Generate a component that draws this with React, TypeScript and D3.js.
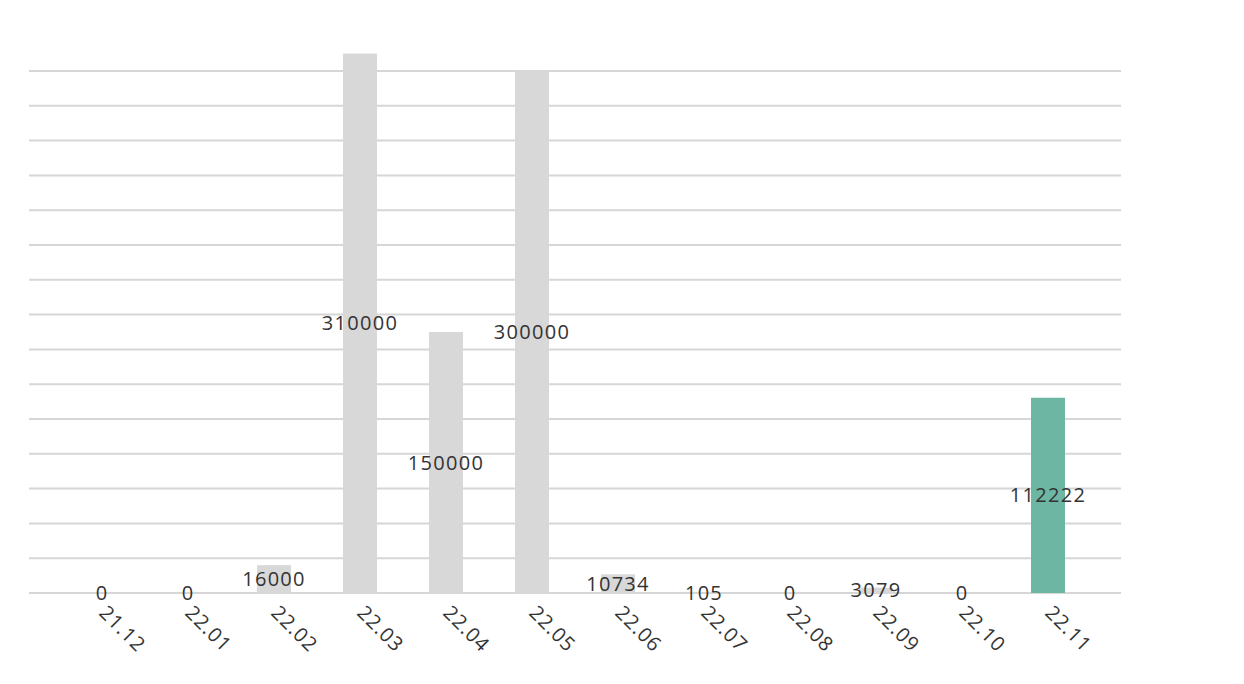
import React from "react";
import * as d3 from "d3";

const categories = ["21.12", "22.01", "22.02", "22.03", "22.04", "22.05", "22.06", "22.07", "22.08", "22.09", "22.10", "22.11"];
const values = [0, 0, 16000, 310000, 150000, 300000, 10734, 105, 0, 3079, 0, 112222];
const gridTicks = d3.range(0, 300001, 20000);

const W = 1244;
const H = 684;
const FONT = "'Open Sans', sans-serif";

export default function App() {
  const x = d3.scaleBand<string>().domain(categories).range([59, 1091]).paddingInner(0.605).paddingOuter(0.3025);
  const y = d3.scaleLinear().domain([0, 300000]).range([593, 71]);
  const gridX0 = 29;
  const gridX1 = 1121;
  const last = categories.length - 1;
  return (
    <svg width={W} height={H} style={{ position: "absolute", left: 0, top: 0 }}>
      <rect width={W} height={H} fill="#fff" />
      {gridTicks.map((t) => (
        <line key={t} x1={gridX0} x2={gridX1} y1={y(t)} y2={y(t)} stroke="#d6d6d6" strokeWidth={2} />
      ))}
      {values.map((v, i) => (
        <rect
          key={categories[i]}
          x={x(categories[i])}
          width={x.bandwidth()}
          y={y(v)}
          height={y(0) - y(v)}
          fill={i === last ? "#6db6a3" : "#d8d8d8"}
        />
      ))}
      {values.map((v, i) => (
        <text
          key={"l" + i}
          x={(x(categories[i]) as number) + x.bandwidth() / 2}
          y={(y(v) + y(0)) / 2}
          dy="0.35em"
          textAnchor="middle"
          fontFamily={FONT}
          fontSize={20}
          letterSpacing={1.3}
          fill="#333"
        >
          {v}
        </text>
      ))}
      {categories.map((c) => {
        const cx = (x(c) as number) + x.bandwidth() / 2;
        return (
          <text
            key={"x" + c}
            transform={`translate(${cx + 1},${609}) rotate(45)`}
            dy="0.35em"
            textAnchor="start"
            fontFamily={FONT}
            fontSize={20}
            letterSpacing={0.9}
            fill="#333"
          >
            {c}
          </text>
        );
      })}
    </svg>
  );
}
